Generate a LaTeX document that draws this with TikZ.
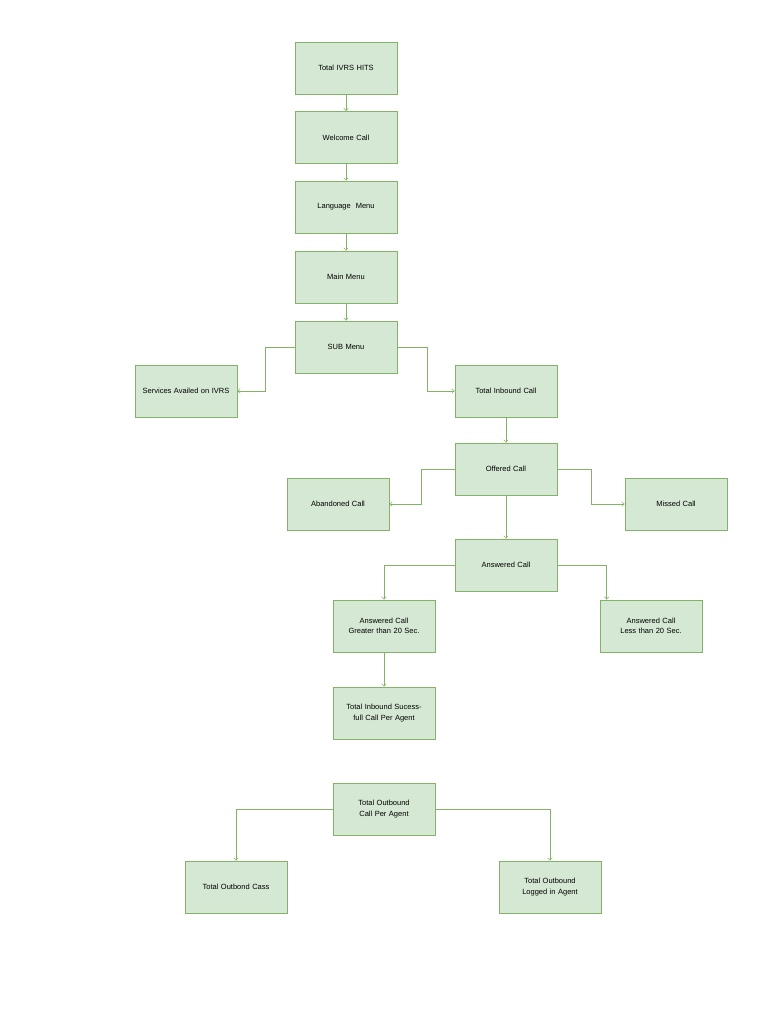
\documentclass[tikz,border=0pt]{standalone}
\usepackage{fontspec}
\setmainfont{Liberation Sans}
\usetikzlibrary{arrows.meta}
\definecolor{bfill}{HTML}{D5E8D4}
\definecolor{bdraw}{HTML}{82B366}
\begin{document}
\begin{tikzpicture}[x=1pt,y=-1pt,
  box/.style={draw=bdraw,fill=bfill,line width=0.7pt,minimum width=102pt,minimum height=52pt,text width=96pt,align=center,inner sep=2pt,font=\fontsize{7.5}{10.5}\selectfont},
  conn/.style={draw=bdraw,line width=0.7pt,-{Classical TikZ Rightarrow[length=3pt,width=5pt]}}]
\useasboundingbox (0,0) rectangle (768,1024);
\node[box] (hits) at (346,68) {Total IVRS HITS};
\node[box] (wel) at (346,137.5) {Welcome Call};
\node[box] (lang) at (346,207) {Language\ \ Menu};
\node[box] (main) at (346,277) {Main Menu};
\node[box] (sub) at (346,347) {SUB Menu};
\node[box] (serv) at (186,391) {Services Availed on IVRS};
\node[box] (inb) at (506,391) {Total Inbound Call};
\node[box] (off) at (506,469) {Offered Call};
\node[box] (aband) at (338,504) {Abandoned Call};
\node[box] (miss) at (676,504) {Missed Call};
\node[box] (ans) at (506,565) {Answered Call};
\node[box] (gt) at (384,626) {Answered Call Greater than 20 Sec.};
\node[box] (lt) at (651,626) {Answered Call Less than 20 Sec.};
\node[box] (succ) at (384,713) {Total Inbound Sucessfull Call Per Agent};
\node[box] (out) at (384,809) {Total Outbound Call Per Agent};
\node[box] (cass) at (236,887) {Total Outbond Cass};
\node[box] (log) at (550,887) {Total Outbound Logged in Agent};
\draw[conn] (hits) -- (wel);
\draw[conn] (wel) -- (lang);
\draw[conn] (lang) -- (main);
\draw[conn] (main) -- (sub);
\draw[conn] (sub.west) -- ++(-29,0) |- (serv.east);
\draw[conn] (sub.east) -- ++(30,0) |- (inb.west);
\draw[conn] (inb) -- (off);
\draw[conn] (off.west) -- ++(-33,0) |- (aband.east);
\draw[conn] (off.east) -- ++(34,0) |- (miss.west);
\draw[conn] (off) -- (ans);
\draw[conn] (ans.west) -| (gt.north);
\draw[conn] (ans.east) -| ([xshift=7pt]lt.north west);
\draw[conn] (gt) -- (succ);
\draw[conn] (out.west) -| (cass.north);
\draw[conn] (out.east) -| (log.north);
\end{tikzpicture}
\end{document}
